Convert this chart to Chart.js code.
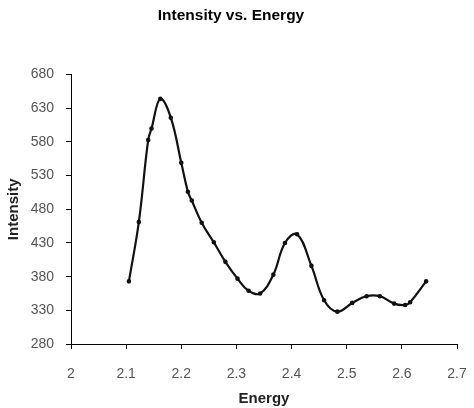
<!DOCTYPE html>
<html>
<head>
<meta charset="utf-8">
<script src="https://cdn.jsdelivr.net/npm/chart.js@4/dist/chart.umd.min.js"></script>
<style>
  html, body { margin: 0; padding: 0; background: #fff; }
  #wrap { width: 474px; height: 408px; }
</style>
</head>
<body>
<div id="wrap"><canvas id="chart"></canvas></div>
<script>
// energy values
const energy = [2.105, 2.123, 2.140, 2.146, 2.162, 2.181, 2.200, 2.212, 2.219, 2.237,
                2.259, 2.280, 2.302, 2.322, 2.343, 2.367, 2.388, 2.410, 2.436, 2.459,
                2.483, 2.510, 2.536, 2.560, 2.586, 2.606, 2.615, 2.644];
// intensity at each energy
const intensity = [373, 461, 583, 600, 644, 616, 549, 506, 493, 460,
                   431, 402, 377, 359, 355, 383, 430, 443, 396, 345,
                   328, 341, 351, 351, 340, 338, 342, 373];

const xTicks = { min: 2, max: 2.7, step: 0.1 };
const yTicks = { min: 280, max: 680, step: 50 };

const points = energy.map((e, i) => ({ x: e, y: intensity[i] }));

const ctx = document.getElementById('chart').getContext('2d');

new Chart(ctx, {
    type: 'line',
    data: {
        datasets: [{
            label: 'Intensity',
            data: points,
            borderColor: '#111',
            backgroundColor: '#111',
            borderWidth: 2.2,
            pointRadius: 1.2,
            pointHoverRadius: 1.2,
            tension: 0.4,
            fill: false
        }]
    },
    options: {
        responsive: true,
        maintainAspectRatio: false,
        animation: false,
        layout: { padding: { top: 0, right: 17, bottom: 0, left: 5 } },
        plugins: {
            legend: { display: false },
            tooltip: { enabled: false },
            title: {
                display: true,
                text: 'Intensity vs. Energy',
                color: '#000',
                font: { family: 'Arial, Liberation Sans', size: 15.5, weight: 'bold' },
                padding: { top: 6, bottom: 50 }
            }
        },
        scales: {
            x: {
                type: 'linear',
                min: xTicks.min,
                max: xTicks.max,
                border: { color: '#000', width: 1 },
                grid: { drawOnChartArea: false, color: '#000', tickLength: 5 },
                ticks: {
                    stepSize: xTicks.step,
                    color: '#555',
                    padding: 17,
                    maxRotation: 0,
                    font: { family: 'Arial, Liberation Sans', size: 14 },
                    callback: v => String(Number(v.toFixed(1)))
                },
                title: {
                    display: true,
                    text: 'Energy',
                    color: '#222',
                    font: { family: 'Arial, Liberation Sans', size: 15, weight: 'bold' },
                    padding: { top: 6, bottom: 0 }
                },
                afterFit: s => {
                    s.height = 64;
                    s.paddingLeft = 0;
                    s.paddingRight = 0;
                }
            },
            y: {
                min: yTicks.min,
                max: yTicks.max,
                border: { color: '#000', width: 1 },
                grid: { drawOnChartArea: false, color: '#000', tickLength: 5 },
                ticks: {
                    stepSize: yTicks.step,
                    color: '#555',
                    padding: 12,
                    font: { family: 'Arial, Liberation Sans', size: 14 }
                },
                title: {
                    display: true,
                    text: 'Intensity',
                    color: '#222',
                    font: { family: 'Arial, Liberation Sans', size: 15, weight: 'bold' },
                    padding: { top: 0, bottom: 2 }
                },
                afterFit: s => { s.width = 66; }
            }
        }
    }
});
</script>
</body>
</html>
